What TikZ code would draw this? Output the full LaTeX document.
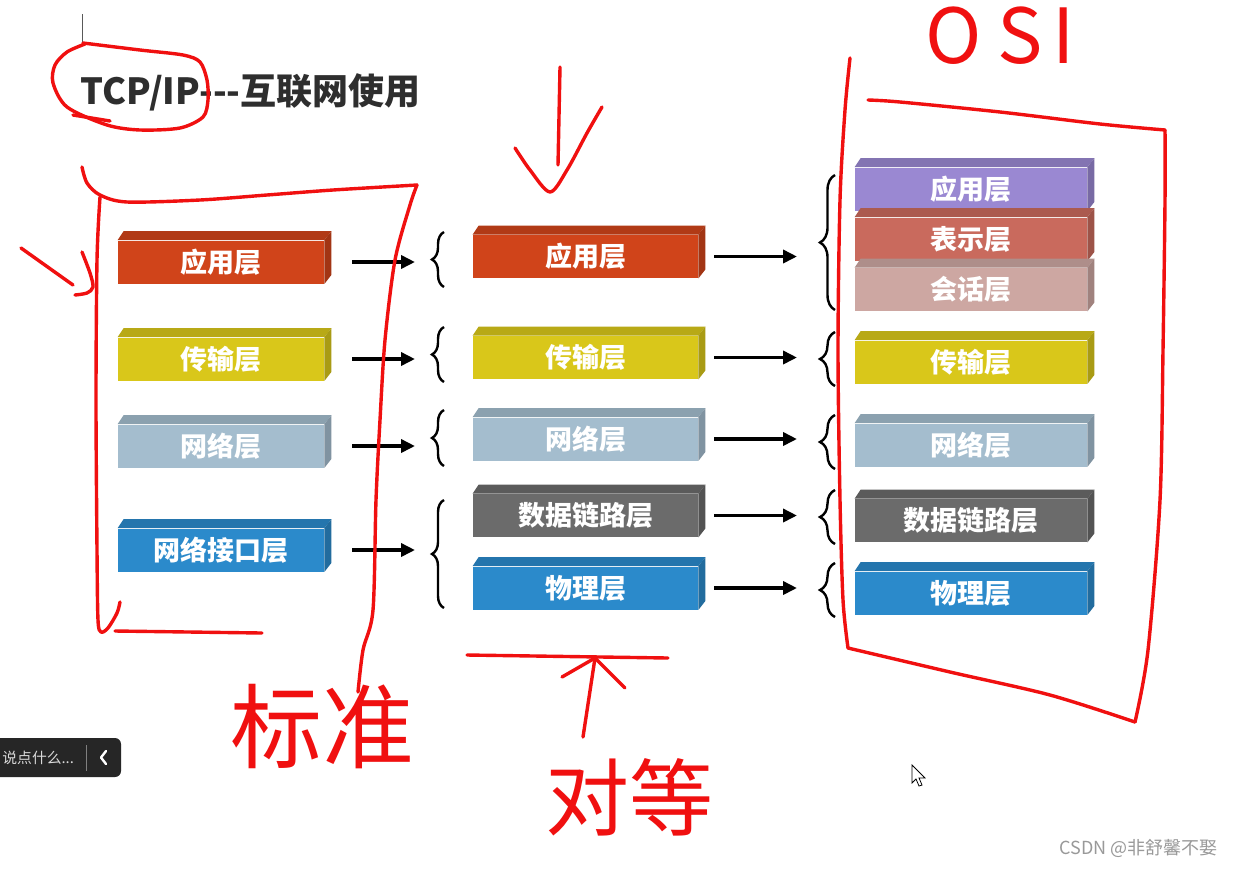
\documentclass[tikz,border=0pt]{standalone}
\usepackage{fontspec}
\newfontfamily\cjk{Noto Sans CJK SC}
\usetikzlibrary{arrows.meta,decorations.pathreplacing}
\definecolor{appred}{HTML}{D0441A}
\definecolor{tpyellow}{HTML}{D9C71A}
\definecolor{netblue}{HTML}{A4BDCE}
\definecolor{ifblue}{HTML}{2B8ACB}
\definecolor{dlgray}{HTML}{6B6B6B}
\definecolor{appviolet}{HTML}{9A88D2}
\definecolor{presred}{HTML}{C96A5D}
\definecolor{sesspink}{HTML}{CDA7A2}
\definecolor{titlegray}{HTML}{2E2E2E}
\definecolor{barblack}{HTML}{262626}
\definecolor{pen}{HTML}{F01010}
\tikzset{
  layer/.style={fill=#1, text=white, inner sep=0pt, minimum height=21.5pt,
    font=\cjk\bfseries\fontsize{13.5}{14}\selectfont},
  arr/.style={->, line width=1.8pt},
  brc/.style={decorate, decoration={brace, amplitude=#1}, line width=1.2pt},
  brc/.default=7.5pt,
  hand/.style={pen, line width=1.7pt, line cap=round, line join=round},
  handtext/.style={text=pen, font=\cjk\fontsize{#1}{#1}\selectfont, inner sep=0pt},
}
\begin{document}
\begin{tikzpicture}[x=0.5pt,y=-0.5pt,>={Triangle[length=7pt,width=6.5pt]}]
 \useasboundingbox (0,0) rectangle (1234,868);
 \fill[white] (0,0) rectangle (1234,868);
 \draw[gray!70!black, line width=0.5pt] (82,14) -- (82,42);
 \node[font=\cjk\bfseries\fontsize{18}{18}\selectfont, text=titlegray, anchor=west, inner sep=0pt] (title) at (80,92) {TCP/IP---互联网使用};
 % layer bars
 \foreach \n/\x/\y/\w/\c/\t in {l1/221/262/103/appred/应用层, l2/221/359/103/tpyellow/传输层,
   l3/221/446/103/netblue/网络层, l4/221/550/103/ifblue/网络接口层,
   m1/585.5/256.5/112.5/appred/应用层, m2/585.5/357.5/112.5/tpyellow/传输层,
   m3/585.5/439/112.5/netblue/网络层, m4/585.5/515.5/112.5/dlgray/数据链路层,
   m5/585.5/588/112.5/ifblue/物理层,
   r1/971/189/116/appviolet/应用层, r2/971/239/116/presred/表示层, r3/971/289.5/116/sesspink/会话层,
   r4/971/362/116/tpyellow/传输层, r5/971/445/116/netblue/网络层, r6/971/520.5/116/dlgray/数据链路层,
   r7/971/593/116/ifblue/物理层}{
  \node[layer=\c, minimum width=\w pt] (\n) at (\x,\y) {\t};
  \fill[\c!85!black] (\n.north west) -- ++(3pt,4.5pt) -- ([shift={(3.5pt,4.5pt)}]\n.north east) -- (\n.north east) -- cycle;
  \fill[\c!78!black] (\n.north east) -- ++(3.5pt,4.5pt) -- ([shift={(3.5pt,4.5pt)}]\n.south east) -- (\n.south east) -- cycle;
 }
 % braces
 \foreach \b/\ya/\yb in {bm1/287/232, bm2/382/327, bm3/466/410, bm4/608/500}{
  \draw[brc=6pt] (444,\ya) -- (444,\yb);
  \coordinate (\b) at (432,{(\ya+\yb)/2});
 }
 \foreach \b/\ya/\yb in {br1/310/175, br2/386/332, br3/469/415, br4/544/490, br5/617/563}{
  \draw[brc] (835,\ya) -- (835,\yb);
  \coordinate (\b) at (820,{(\ya+\yb)/2});
 }
 \foreach \a/\b in {l1/bm1, l2/bm2, l3/bm3, l4/bm4}
  \draw[arr, shorten <=14pt, shorten >=8.5pt] (\a.east) -- (\a.east -| \b);
 \foreach \a/\b in {m1/br1, m2/br2, m3/br3, m4/br4, m5/br5}
  \draw[arr, shorten <=8pt, shorten >=11.5pt] (\a.east) -- (\a.east -| \b);
 % pen marks
 \draw[hand] plot[smooth] coordinates {(83,43) (140,50) (183,55) (200,62) (207,80) (208,100) (203,117) (180,128) (140,130) (107,125) (67,107) (53,83) (55,65) (67,52) (85,44)};
 \draw[hand] (73,115) -- (110,121);
 \draw[hand] plot[smooth] coordinates {(82,167) (87,183) (100,195) (127,202) (200,200) (267,195) (333,190) (417,185)};
 \draw[hand] plot[smooth] coordinates {(417,185) (410,205) (395,260) (385,340) (380,420) (376,500) (373,610) (363,650) (358,692)};
 \draw[hand] plot[smooth] coordinates {(100,197) (97,260) (96,400) (97,550) (98,620) (101,632) (108,628) (117,613) (120,602)};
 \draw[hand] (115,631) -- (262,633);
 \draw[hand] (21,248) -- (73,285);
 \draw[hand] plot[smooth] coordinates {(82,252) (90,273) (93,287) (87,293) (75,295)};
 \draw[hand] (560,67) -- (558,165);
 \draw[hand] plot[smooth] coordinates {(515,148) (530,170) (550,192) (567,170) (587,133) (602,107)};
 \draw[hand] (467,655) -- (668,658);
 \draw[hand] (595,658) -- (583,737);
 \draw[hand] (562,677) -- (595,658) -- (625,688);
 \draw[hand] plot[smooth] coordinates {(850,58) (845,110) (840,200) (838,350) (840,500) (843,600) (848,648)};
 \draw[hand] plot[smooth] coordinates {(848,648) (950,672) (1050,695) (1135,722)};
 \draw[hand] plot[smooth] coordinates {(1135,722) (1148,650) (1160,500) (1163,350) (1165,200) (1165,130)};
 \draw[hand] plot[smooth] coordinates {(1165,130) (1100,124) (1000,112) (900,102) (868,100)};
 \node[handtext=38] (osi) at (1000,36) {O\kern8pt S\kern5pt I};
 \node[handtext=46] (std) at (322,727) {标准};
 \node[handtext=42] (peer) at (629,797) {对等};
 % player bar, cursor, mark
 \node[fill=barblack, rounded corners=3pt, minimum width=65.5pt, minimum height=19.5pt, inner sep=0pt] (bar) at (55.5,757.5) {};
 \node[anchor=west, text=white!85!black, font=\cjk\fontsize{7.4}{8}\selectfont, inner sep=0pt] (say) at (2,758) {说点什么...};
 \draw[gray] (86,745) -- (86,771);
 \draw[white, line width=1.2pt, line cap=round, line join=round] (106,751) -- (101,757.5) -- (106,764);
 \draw[fill=white, line width=0.4pt] (912,765) -- (912,783) -- (916,779) -- (919,786) -- (922,785) -- (919,778) -- (925,778) -- cycle;
 \node[anchor=east, text=gray!80, font=\cjk\fontsize{9}{9}\selectfont, inner sep=0pt] (csdn) at (1218,848) {CSDN @非舒馨不娶};
\end{tikzpicture}
\end{document}
